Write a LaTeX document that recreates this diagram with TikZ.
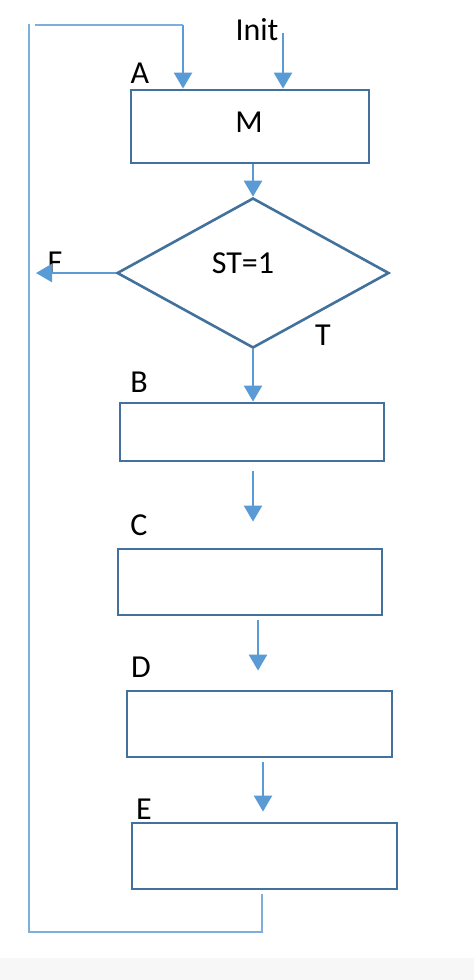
\documentclass[tikz,border=0pt]{standalone}
\usepackage{fontspec}
\setmainfont{Carlito}
\usetikzlibrary{arrows.meta,shapes.geometric}
\definecolor{boxblue}{HTML}{41719C}
\definecolor{arrblue}{HTML}{5B9BD5}
\definecolor{loopblue}{HTML}{7EAEDB}
\begin{document}
\begin{tikzpicture}[x=1pt,y=-1pt,
  stepbox/.style={draw=boxblue,line width=2.8pt,rectangle,inner sep=0pt},
  decbox/.style={draw=boxblue,line width=2.6pt,diamond,inner sep=0pt,minimum width=272pt,minimum height=150pt},
  arr/.style={draw=arrblue,line width=2.5pt,-{Triangle[width=18pt,length=16pt]}},
  loopline/.style={draw=loopblue,line width=1.5pt},
  lbl/.style={font=\fontsize{32}{36}\selectfont,anchor=base,inner sep=0pt}]
\useasboundingbox (0,0) rectangle (474,980);
\fill[black!3] (0,958) rectangle (474,980);
% boxes
\node[stepbox,minimum width=238pt,minimum height=73pt] (A) at (250,126.5) {};
\node[decbox] (dec) at (253,273) {};
\node[stepbox,minimum width=264pt,minimum height=58pt] (B) at (252,432) {};
\node[stepbox,minimum width=264pt,minimum height=66pt] (C) at (250,582) {};
\node[stepbox,minimum width=265pt,minimum height=66pt] (D) at (259.5,724) {};
\node[stepbox,minimum width=265pt,minimum height=66pt] (E) at (264.5,856) {};
% labels
\node[lbl] (init) at (257,40) {Init};
\node[lbl] (la) at (140,83) {A};
\node[lbl] (lm) at (249,132) {M};
\node[lbl] (lst) at (243,273) {ST=1};
\node[lbl] (lf) at (55,272) {F};
\node[lbl] (lt) at (323,345) {T};
\node[lbl] (lb) at (139,392) {B};
\node[lbl] (lc) at (139,535) {C};
\node[lbl] (ld) at (141,677) {D};
\node[lbl] (le) at (144,819) {E};
% coordinates
\coordinate (initc) at (283,33);
\coordinate (loopin) at (183,25);
\coordinate (looptl) at (35,25);
\coordinate (lefttop) at (29,24);
\coordinate (leftbot) at (29,932);
\coordinate (ebot) at (262,932);
\coordinate (fend) at (36,273);
\coordinate (xbc) at (253,0);
\coordinate (xcd) at (258,0);
\coordinate (xde) at (263,0);
% connectors
\draw[arr] (initc) -- (initc |- A.north);
\draw[arr] (loopin) -- (loopin |- A.north);
\draw[loopline] (looptl) -- (loopin);
\draw[arr] (A.south -| dec.north) -- (dec.north);
\draw[arr] (dec.west) -- (fend);
\draw[arr] (dec.south) -- (dec.south |- B.north);
\draw[arr,shorten <=9pt,shorten >=26pt] (B.south -| xbc) -- (C.north -| xbc);
\draw[arr,shorten <=4pt,shorten >=19pt] (C.south -| xcd) -- (D.north -| xcd);
\draw[arr,shorten <=4pt,shorten >=10pt] (D.south -| xde) -- (E.north -| xde);
\draw[loopline,shorten <=4pt] (E.south -| ebot) -- (ebot) -- (leftbot) -- (lefttop);
\end{tikzpicture}
\end{document}
